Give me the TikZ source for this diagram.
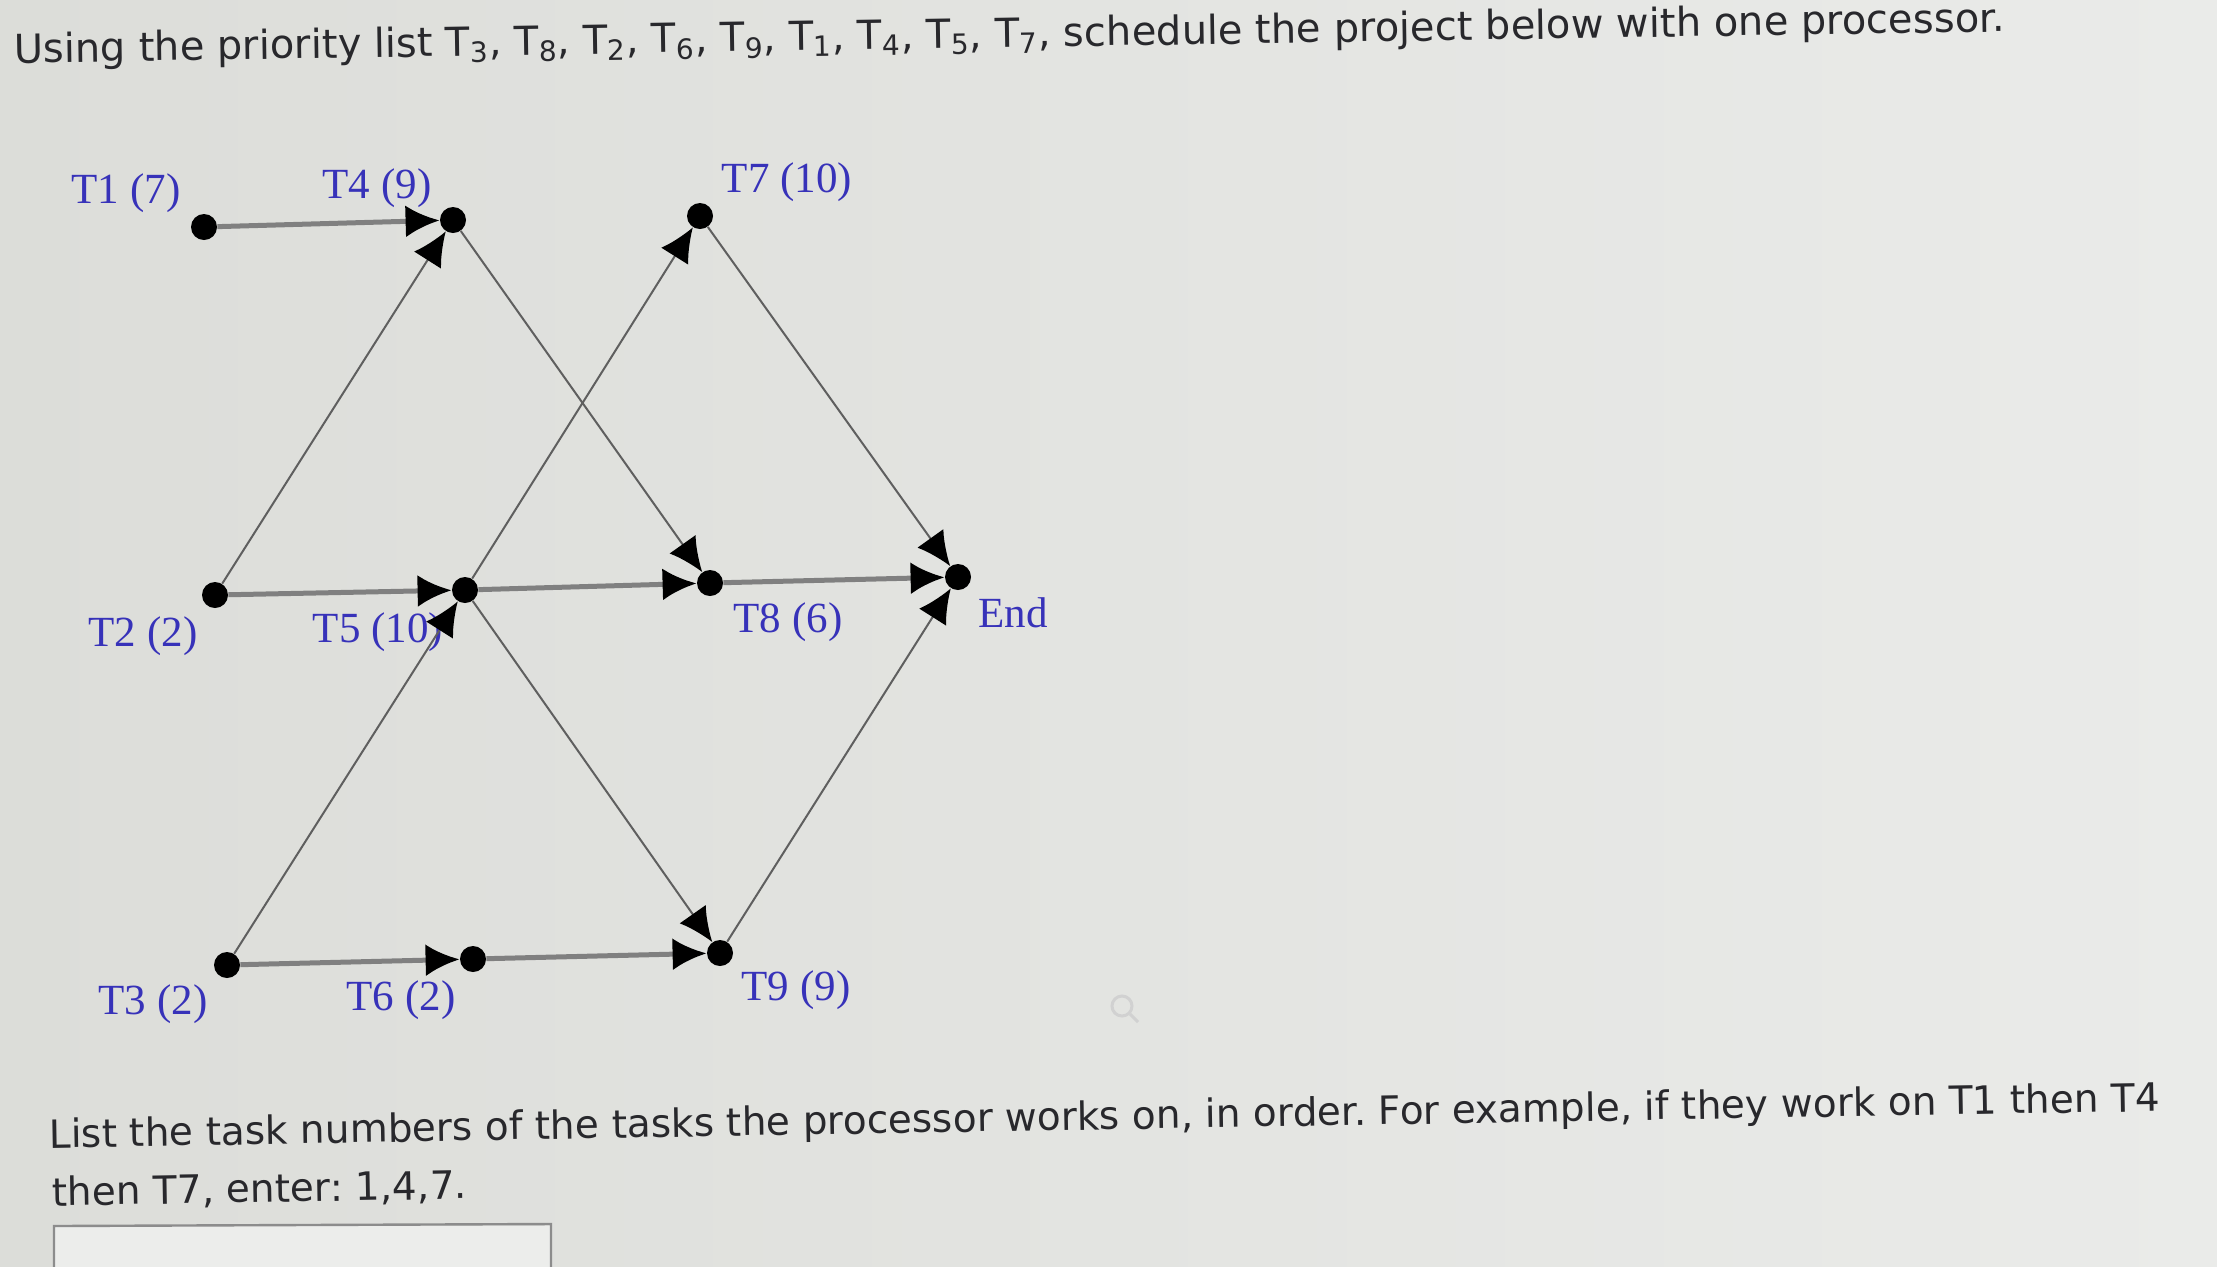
\documentclass[tikz,border=0pt]{standalone}
\usepackage{fontspec}
\setmainfont{Liberation Serif}
\newfontfamily\uifont{DejaVu Sans}
\usetikzlibrary{arrows.meta}
\definecolor{bgL}{RGB}{220,221,217}
\definecolor{bgR}{RGB}{234,235,233}
\definecolor{lblue}{RGB}{55,50,185}
\definecolor{uitext}{RGB}{40,40,44}
\definecolor{hgray}{RGB}{128,128,128}
\definecolor{dgray}{RGB}{95,95,95}
\definecolor{boxfill}{RGB}{236,237,235}
\tikzset{
  dot/.style={circle, fill=black, inner sep=0pt, minimum size=13pt},
  lbl/.style={text=lblue, font=\fontsize{21.5}{24}\selectfont, inner sep=0pt},
  tiphead/.style={-{Latex[length=17pt,width=16pt,black]}},
  hedge/.style={tiphead, draw=hgray, line width=2.5pt},
  dedge/.style={tiphead, draw=dgray, line width=1pt},
  ui/.style={text=uitext, font=\uifont\frenchspacing\fontsize{20}{24}\selectfont, inner sep=0pt},
  uiq/.style={text=uitext, font=\uifont\frenchspacing\fontsize{19.5}{24}\selectfont, inner sep=0pt}
}
\begin{document}
\begin{tikzpicture}[x=0.5pt,y=-0.5pt]
\useasboundingbox (0,0) rectangle (2217,1266);
\fill[left color=bgL, right color=bgR] (0,0) rectangle (2217,1266);

% title
\node[ui, anchor=base west, rotate=0.9] (title) at (14,63)
  {Using the priority list T\textsubscript{3}, T\textsubscript{8}, T\textsubscript{2}, T\textsubscript{6}, T\textsubscript{9}, T\textsubscript{1}, T\textsubscript{4}, T\textsubscript{5}, T\textsubscript{7}, schedule the project below with one processor.};

% task dots
\node[dot] (t1) at (204,227) {};
\node[dot] (t4) at (453,220) {};
\node[dot] (t7) at (700,216) {};
\node[dot] (t2) at (215,595) {};
\node[dot] (t5) at (465,590) {};
\node[dot] (t8) at (710,583) {};
\node[dot] (en) at (958,577) {};
\node[dot] (t3) at (227,965) {};
\node[dot] (t6) at (473,959) {};
\node[dot] (t9) at (720,953) {};

% labels
\node[lbl] (l1) at (126,193) {T1 (7)};
\node[lbl] (l4) at (377,188) {T4 (9)};
\node[lbl] (l7) at (787,182) {T7 (10)};
\node[lbl] (l2) at (143,636) {T2 (2)};
\node[lbl] (l5) at (378,632) {T5 (10)};
\node[lbl] (l8) at (788,622) {T8 (6)};
\node[lbl] (lend) at (1013,613) {End};
\node[lbl] (l3) at (153,1004) {T3 (2)};
\node[lbl] (l6) at (401,1000) {T6 (2)};
\node[lbl] (l9) at (796,990) {T9 (9)};

% edges
\draw[hedge] (t1) -- (t4);
\draw[dedge] (t2) -- (t4);
\draw[hedge] (t2) -- (t5);
\draw[dedge] (t3) -- (t5);
\draw[hedge] (t3) -- (t6);
\draw[dedge] (t4) -- (t8);
\draw[dedge] (t5) -- (t7);
\draw[hedge] (t5) -- (t8);
\draw[dedge] (t5) -- (t9);
\draw[hedge] (t6) -- (t9);
\draw[dedge] (t7) -- (en);
\draw[hedge] (t8) -- (en);
\draw[dedge] (t9) -- (en);

% faint magnifier
\draw[draw=black!18, line width=1.5pt] (1122,1006) circle (10);
\draw[draw=black!18, line width=1.5pt] (1130,1014) -- (1138,1022);

% question
\node[uiq, anchor=base west, rotate=1.0] (q1) at (49,1148)
  {List the task numbers of the tasks the processor works on, in order. For example, if they work on T1 then T4};
\node[uiq, anchor=base west, rotate=1.0] (q2) at (52,1206)
  {then T7, enter: 1,4,7.};

% answer box
\fill[boxfill] (54,1226) rectangle (551,1280);
\draw[draw=black!45, line width=1.2pt] (54,1280) -- (54,1226) -- (551,1224) -- (551,1280);
\end{tikzpicture}
\end{document}
